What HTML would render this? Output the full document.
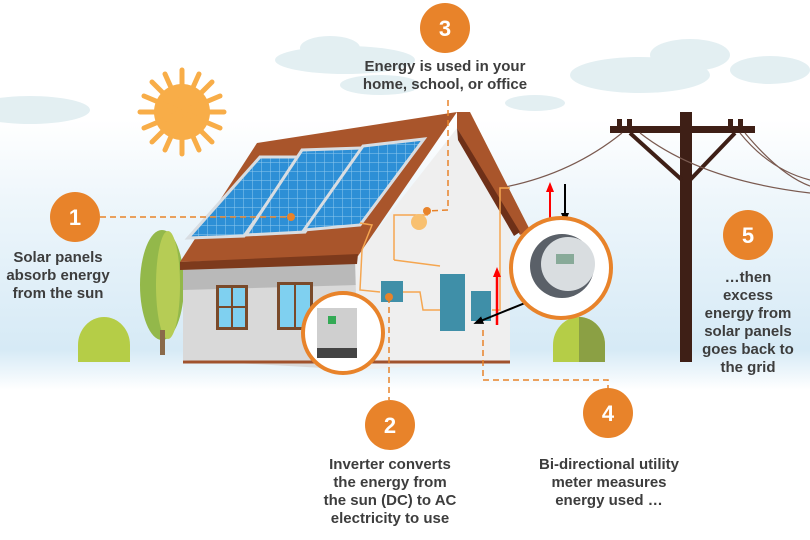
<!DOCTYPE html>
<html><head><meta charset="utf-8"><style>
html,body{margin:0;padding:0;background:#fff;}
svg{display:block;}
text{font-family:"Liberation Sans",sans-serif;font-weight:bold;fill:#3d3d3d;}
.n{fill:#fff;font-size:22px;text-anchor:middle;}
.t{font-size:15px;text-anchor:middle;}
</style></head><body>
<svg width="810" height="540" viewBox="0 0 810 540" xmlns="http://www.w3.org/2000/svg">
<defs>
<linearGradient id="sky" x1="0" y1="0" x2="0" y2="1">
<stop offset="0" stop-color="#ffffff"/><stop offset="0.3" stop-color="#eef6fb"/><stop offset="0.85" stop-color="#d6eaf6"/><stop offset="1" stop-color="#ffffff"/>
</linearGradient>
<pattern id="cells" width="9" height="9" patternUnits="userSpaceOnUse"><rect width="9" height="9" fill="#2d8fd6"/><path d="M0,0H9M0,0V9" stroke="#8ec8ef" stroke-width="1"/></pattern>
<marker id="ah" markerUnits="userSpaceOnUse" markerWidth="10" markerHeight="10" refX="5" refY="5" orient="auto"><path d="M0,1L10,5L0,9z" fill="#000"/></marker>
<marker id="ar" markerUnits="userSpaceOnUse" markerWidth="10" markerHeight="10" refX="5" refY="5" orient="auto"><path d="M0,1L10,5L0,9z" fill="#f00"/></marker>
</defs>
<rect width="810" height="540" fill="#fff"/>
<rect x="0" y="120" width="810" height="270" fill="url(#sky)"/>
<g fill="#e3eff2">
<ellipse cx="30" cy="110" rx="60" ry="14"/><ellipse cx="345" cy="60" rx="70" ry="14"/><ellipse cx="330" cy="48" rx="30" ry="12"/>
<ellipse cx="640" cy="75" rx="70" ry="18"/><ellipse cx="690" cy="55" rx="40" ry="16"/><ellipse cx="770" cy="70" rx="40" ry="14"/>
<ellipse cx="535" cy="103" rx="30" ry="8"/><ellipse cx="380" cy="85" rx="40" ry="10"/>
</g>
<g fill="#f8ad48">
<circle cx="182" cy="112" r="28"/>
<g stroke="#f8ad48" stroke-width="5" stroke-linecap="round">
<line x1="182" y1="70" x2="182" y2="154"/><line x1="140" y1="112" x2="224" y2="112"/>
<line x1="152" y1="82" x2="212" y2="142"/><line x1="212" y1="82" x2="152" y2="142"/>
<line x1="165" y1="74" x2="199" y2="150"/><line x1="199" y1="74" x2="165" y2="150"/>
<line x1="144" y1="96" x2="220" y2="128"/><line x1="144" y1="128" x2="220" y2="96"/>
</g></g>
<g fill="#3e1f16">
<rect x="680" y="112" width="12" height="250"/>
<rect x="610" y="126" width="145" height="7"/>
<rect x="617" y="119" width="5" height="8"/><rect x="627" y="119" width="5" height="8"/>
<rect x="728" y="119" width="5" height="8"/><rect x="738" y="119" width="5" height="8"/>
</g>
<g stroke="#3e1f16" stroke-width="4"><line x1="630" y1="133" x2="682" y2="180"/><line x1="735" y1="133" x2="690" y2="180"/></g>
<g fill="none" stroke="#7a5a50" stroke-width="1.2">
<path d="M500,188 Q570,175 622,133"/><path d="M640,133 Q700,180 810,193"/><path d="M740,133 Q770,170 810,180"/><path d="M745,133 Q780,175 810,186"/>
</g>
<ellipse cx="162" cy="285" rx="22" ry="55" fill="#93b84a"/><ellipse cx="168" cy="285" rx="12" ry="54" fill="#b6cc55"/>
<rect x="160" y="330" width="5" height="25" fill="#8a6a4a"/>
<path d="M78,362 L78,345 A26,28 0 0 1 130,345 L130,362Z" fill="#b5cd47"/>
<path d="M553,362 L553,345 A26,28 0 0 1 605,345 L605,362Z" fill="#b5cd47"/>
<path d="M579,362 L579,317 A26,28 0 0 1 605,345 L605,362Z" fill="#8ba044"/>
<polygon points="183,262 358,255 358,370 183,360" fill="#d9d9d9"/>
<polygon points="183,262 358,255 358,285 183,290" fill="#b9b9b9"/>
<polygon points="355,258 457,128 510,215 510,360 358,370" fill="#efefef"/>
<line x1="183" y1="362" x2="510" y2="362" stroke="#a0522d" stroke-width="3"/>
<polygon points="180,262 257,143 457,112 358,256" fill="#a9552b"/>
<polygon points="180,262 358,254 357,264 180,270" fill="#7d3a1c"/>
<polygon points="457,112 470,112 530,230 520,235 457,128" fill="#a9552b"/>
<polygon points="457,128 520,232 514,236 458,140" fill="#6e3018"/>
<rect x="216" y="285" width="32" height="45" fill="#7a4a2a"/><rect x="219" y="288" width="26" height="39" fill="#7fd0f0"/>
<line x1="232" y1="288" x2="232" y2="327" stroke="#7a4a2a" stroke-width="2"/><line x1="219" y1="307" x2="245" y2="307" stroke="#7a4a2a" stroke-width="2"/>
<rect x="277" y="282" width="36" height="48" fill="#7a4a2a"/><rect x="280" y="285" width="30" height="42" fill="#7fd0f0"/>
<line x1="295" y1="285" x2="295" y2="327" stroke="#7a4a2a" stroke-width="2"/>
<g fill="url(#cells)" stroke="#d8dde2" stroke-width="3">
<polygon points="188,238 260,157 300,157 244,236"/>
<polygon points="246,235 302,150 362,148 305,232"/>
<polygon points="304,230 363,146 424,139 360,225"/>
</g>
<g fill="none" stroke="#f5a650" stroke-width="1.5">
<path d="M360,223 L372,225 L362,250 L360,290 L380,292"/>
<path d="M395,292 L420,292 L423,310 L440,310"/>
<path d="M394,260 L394,215 L428,215"/>
<path d="M394,260 L440,266"/>
<path d="M492,310 L500,310 L500,188 L510,188"/>
</g>
<rect x="381" y="281" width="22" height="21" fill="#3f8fa8"/>
<rect x="440" y="274" width="25" height="57" fill="#3f8fa8"/>
<rect x="471" y="291" width="20" height="30" fill="#3f8fa8"/>
<circle cx="419" cy="222" r="8" fill="#f8c070"/>
<line x1="497" y1="325" x2="497" y2="272" stroke="#f00" stroke-width="2.5" marker-end="url(#ar)"/>
<line x1="550" y1="225" x2="550" y2="187" stroke="#f00" stroke-width="2" marker-end="url(#ar)"/>
<line x1="565" y1="184" x2="565" y2="218" stroke="#000" stroke-width="2" marker-end="url(#ah)"/>
<line x1="530" y1="301" x2="478" y2="322" stroke="#000" stroke-width="2" marker-end="url(#ah)"/>
<circle cx="343" cy="333" r="40" fill="#fff" stroke="#e8832a" stroke-width="4"/>
<rect x="317" y="308" width="40" height="50" fill="#cfcfcf"/><rect x="317" y="348" width="40" height="10" fill="#444"/>
<rect x="328" y="316" width="8" height="8" fill="#3a5"/>
<circle cx="561" cy="268" r="50" fill="#fff" stroke="#e8832a" stroke-width="4"/>
<circle cx="562" cy="266" r="32" fill="#5a6068"/><circle cx="568" cy="264" r="27" fill="#d9dde0"/>
<rect x="556" y="254" width="18" height="10" fill="#8a9"/>
<g fill="none" stroke="#e8832a" stroke-width="1.5" stroke-dasharray="6,4">
<path d="M100,217 L291,217"/>
<path d="M448,100 L448,210 L428,211"/>
<path d="M389,297 L389,400"/>
<path d="M483,330 L483,380 L608,380 L608,390"/>
</g>
<circle cx="291" cy="217" r="4" fill="#e8832a"/><circle cx="427" cy="211" r="4" fill="#e8832a"/><circle cx="389" cy="297" r="4" fill="#e8832a"/>
<g fill="#e8832a"><circle cx="75" cy="217" r="25"/><circle cx="445" cy="28" r="25"/><circle cx="390" cy="425" r="25"/><circle cx="608" cy="413" r="25"/><circle cx="748" cy="235" r="25"/></g>
<text class="n" x="75" y="225">1</text><text class="n" x="445" y="36">3</text><text class="n" x="390" y="433">2</text><text class="n" x="608" y="421">4</text><text class="n" x="748" y="243">5</text>
<text class="t"><tspan x="58" y="262">Solar panels</tspan><tspan x="58" y="280">absorb energy</tspan><tspan x="58" y="298">from the sun</tspan></text>
<text class="t"><tspan x="445" y="71">Energy is used in your</tspan><tspan x="445" y="89">home, school, or office</tspan></text>
<text class="t"><tspan x="390" y="469">Inverter converts</tspan><tspan x="390" y="487">the energy from</tspan><tspan x="390" y="505">the sun (DC) to AC</tspan><tspan x="390" y="523">electricity to use</tspan></text>
<text class="t"><tspan x="609" y="469">Bi-directional utility</tspan><tspan x="609" y="487">meter measures</tspan><tspan x="609" y="505">energy used …</tspan></text>
<text class="t"><tspan x="748" y="282">…then</tspan><tspan x="748" y="300">excess</tspan><tspan x="748" y="318">energy from</tspan><tspan x="748" y="336">solar panels</tspan><tspan x="748" y="354">goes back to</tspan><tspan x="748" y="372">the grid</tspan></text>
</svg>
</body></html>
